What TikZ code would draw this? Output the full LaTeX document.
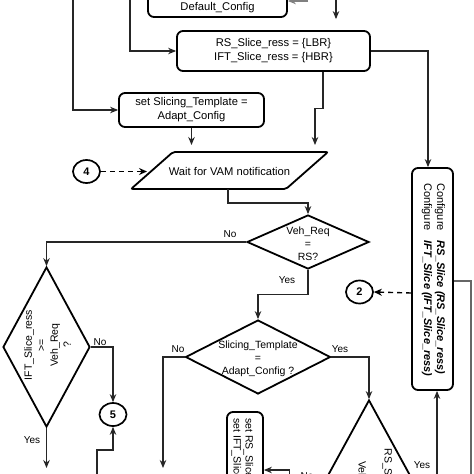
\documentclass[tikz,border=0pt]{standalone}
\usepackage{fontspec}
\setmainfont{Liberation Sans}
\usetikzlibrary{shapes.geometric,arrows.meta,calc}
\begin{document}
\begin{tikzpicture}[x=1pt,y=-1pt,
  box/.style={draw, line width=1.8pt, rounded corners=6pt, inner sep=0pt},
  dia/.style={draw, diamond, line width=1.8pt, inner sep=0pt},
  txt/.style={inner sep=0pt, align=center, font=\fontsize{11.2}{14}\selectfont},
  dtxt/.style={inner sep=0pt, align=center, font=\fontsize{10.5}{13}\selectfont},
  lbl/.style={inner sep=0pt, font=\fontsize{10}{12}\selectfont},
  conn/.style={line width=1.1pt, draw=black!85, -{Stealth[length=8pt,width=6.5pt]}},
  plain/.style={line width=1.1pt, draw=black!85},
  dconn/.style={line width=1.4pt, dash pattern=on 5pt off 4pt, -{Stealth[length=8pt,width=7pt]}},
  circ/.style={draw, ellipse, line width=1.7pt, minimum width=27pt, minimum height=23pt, inner sep=0pt, font=\fontsize{11}{13}\selectfont\bfseries}
]
\useasboundingbox (0,0) rectangle (474,474);
\fill[white] (0,0) rectangle (474,474);
\clip (0,0) rectangle (474,474);

% boxes
\node[box, minimum width=139pt, minimum height=37pt] (def) at (217.5,-1.5) {};
\node[txt] (deft) at (217.5,8) {Default\_Config};
\node[box, txt, minimum width=193pt, minimum height=40pt] (rs) at (273.5,51) {RS\_Slice\_ress = \{LBR\}\\IFT\_Slice\_ress = \{HBR\}};
\node[box, txt, minimum width=145pt, minimum height=34pt] (ada) at (191.5,110) {set Slicing\_Template =\\Adapt\_Config};

% parallelogram
\coordinate (pBL) at (131,189);
\coordinate (pTL) at (173,152);
\coordinate (pTR) at (328,152);
\coordinate (pBR) at (286,189);
\coordinate (pIn1) at (315,152);
\coordinate (pOut) at (228,189);
\coordinate (pLm) at (151,171.5);
\draw[line width=1.8pt, rounded corners=2pt] (pBL) -- (pTL) -- (pTR) -- (pBR) -- cycle;
\node[txt] (wait) at (229.5,171) {Wait for VAM notification};

% diamonds
\node[dia, minimum width=122pt, minimum height=54pt] (veh) at (308,242) {};
\node[dtxt] (veht) at (308,244) {Veh\_Req\\=\\RS?};
\node[dia, minimum width=87pt, minimum height=160pt] (ift) at (46.5,347) {};
\node[dtxt, rotate=90] (iftt) at (47.5,345) {IFT\_Slice\_ress\\>=\\Veh\_Req\\?};
\node[dia, minimum width=145pt, minimum height=74pt] (sl) at (258,357) {};
\node[dtxt] (slt) at (258,358.5) {Slicing\_Template\\=\\Adapt\_Config ?};
\node[dia, minimum width=91pt, minimum height=166pt] (bd) at (369,483) {};
\node[dtxt, rotate=-90] (bdt) at (369,483) {RS\_Slice\_ress\\>=\\Veh\_Req\\?};

% rotated boxes
\node[box, minimum width=36pt, minimum height=140pt] (setrs) at (245,482) {};
\node[inner sep=0pt, align=left, rotate=-90, anchor=west, font=\fontsize{10.5}{12}\selectfont] (setrst) at (242.5,418) {set RS\_Slice\_ress\\set IFT\_Slice\_ress};
\node[box, minimum width=41pt, minimum height=222pt] (cfg) at (432.5,279) {};
\node[inner sep=0pt, align=left, rotate=-90, anchor=west, font=\fontsize{11}{13}\selectfont] (cfgt) at (433.5,183) {Configure\hspace{10pt}\textbf{\textit{RS\_Slice (RS\_Slice\_ress)}}\\Configure\hspace{10pt}\textbf{\textit{IFT\_Slice (IFT\_Slice\_ress)}}};

% connectors (circles)
\node[circ] (c4) at (86.5,171.5) {4};
\node[circ] (c5) at (113,414.5) {5};
\node[circ] (c2) at (359.5,292) {2};

% free ends
\coordinate (tA) at (73,-5);
\coordinate (tB) at (130,-5);
\coordinate (tC) at (308,1);
\coordinate (tD) at (336,-5);
\coordinate (eA) at (46.5,468);
\coordinate (eB) at (163,468);
\coordinate (s5) at (97,480);
\coordinate (eR) at (471,480);

% connectors
\draw[conn] (tA) |- (ada.west);
\draw[conn] (tB) |- (rs.west);
\draw[conn, draw=black!50] (tC) -- (def.east |- tC);
\draw[conn, shorten >=11pt] (tD) -- (tD |- rs.north);
\draw[conn] (rs.east) -| ([xshift=-4.5pt]cfg.north);
\draw[conn, shorten >=7pt] ([xshift=49.5pt]rs.south) -- ++(0,37) -| (pIn1);
\draw[conn, shorten >=7pt] (ada.south) -- (ada.south |- pTL);
\draw[dconn, shorten >=4pt] (c4.east) -- (pLm);
\draw[conn] (pOut) -- ++(0,14) -| (veh.north);
\draw[conn] (veh.west) -| (ift.north);
\draw[conn] (veh.south) -- ++(0,25) -| (sl.north);
\draw[conn] (ift.east) -| (c5.north);
\draw[conn] (ift.south) -- (eA);
\draw[conn] (s5) -- ++(0,-30) -| (c5.south);
\draw[conn] (sl.west) -| (eB);
\draw[conn] (sl.east) -| (bd.north);
\draw[conn] (bd.west) -- ++(-33.5,0) |- ([yshift=12pt]setrs.east);
\draw[conn] (bd.east) -| ([xshift=4.5pt]cfg.south);
\draw[plain, draw=black!60] ([yshift=-2pt]cfg.east) -| (eR);
\draw[dconn] ([yshift=-14pt]cfg.west) -- (c2.east);

% labels
\node[lbl] (lNo1) at (230,234) {No};
\node[lbl] (lYes1) at (287,280) {Yes};
\node[lbl] (lNo2) at (100,342) {No};
\node[lbl] (lYes2) at (32,440) {Yes};
\node[lbl] (lNo3) at (178,349) {No};
\node[lbl] (lYes3) at (340,349) {Yes};
\node[lbl] (lNo4) at (307,476) {No};
\node[lbl] (lYes4) at (422,465) {Yes};
\end{tikzpicture}
\end{document}
